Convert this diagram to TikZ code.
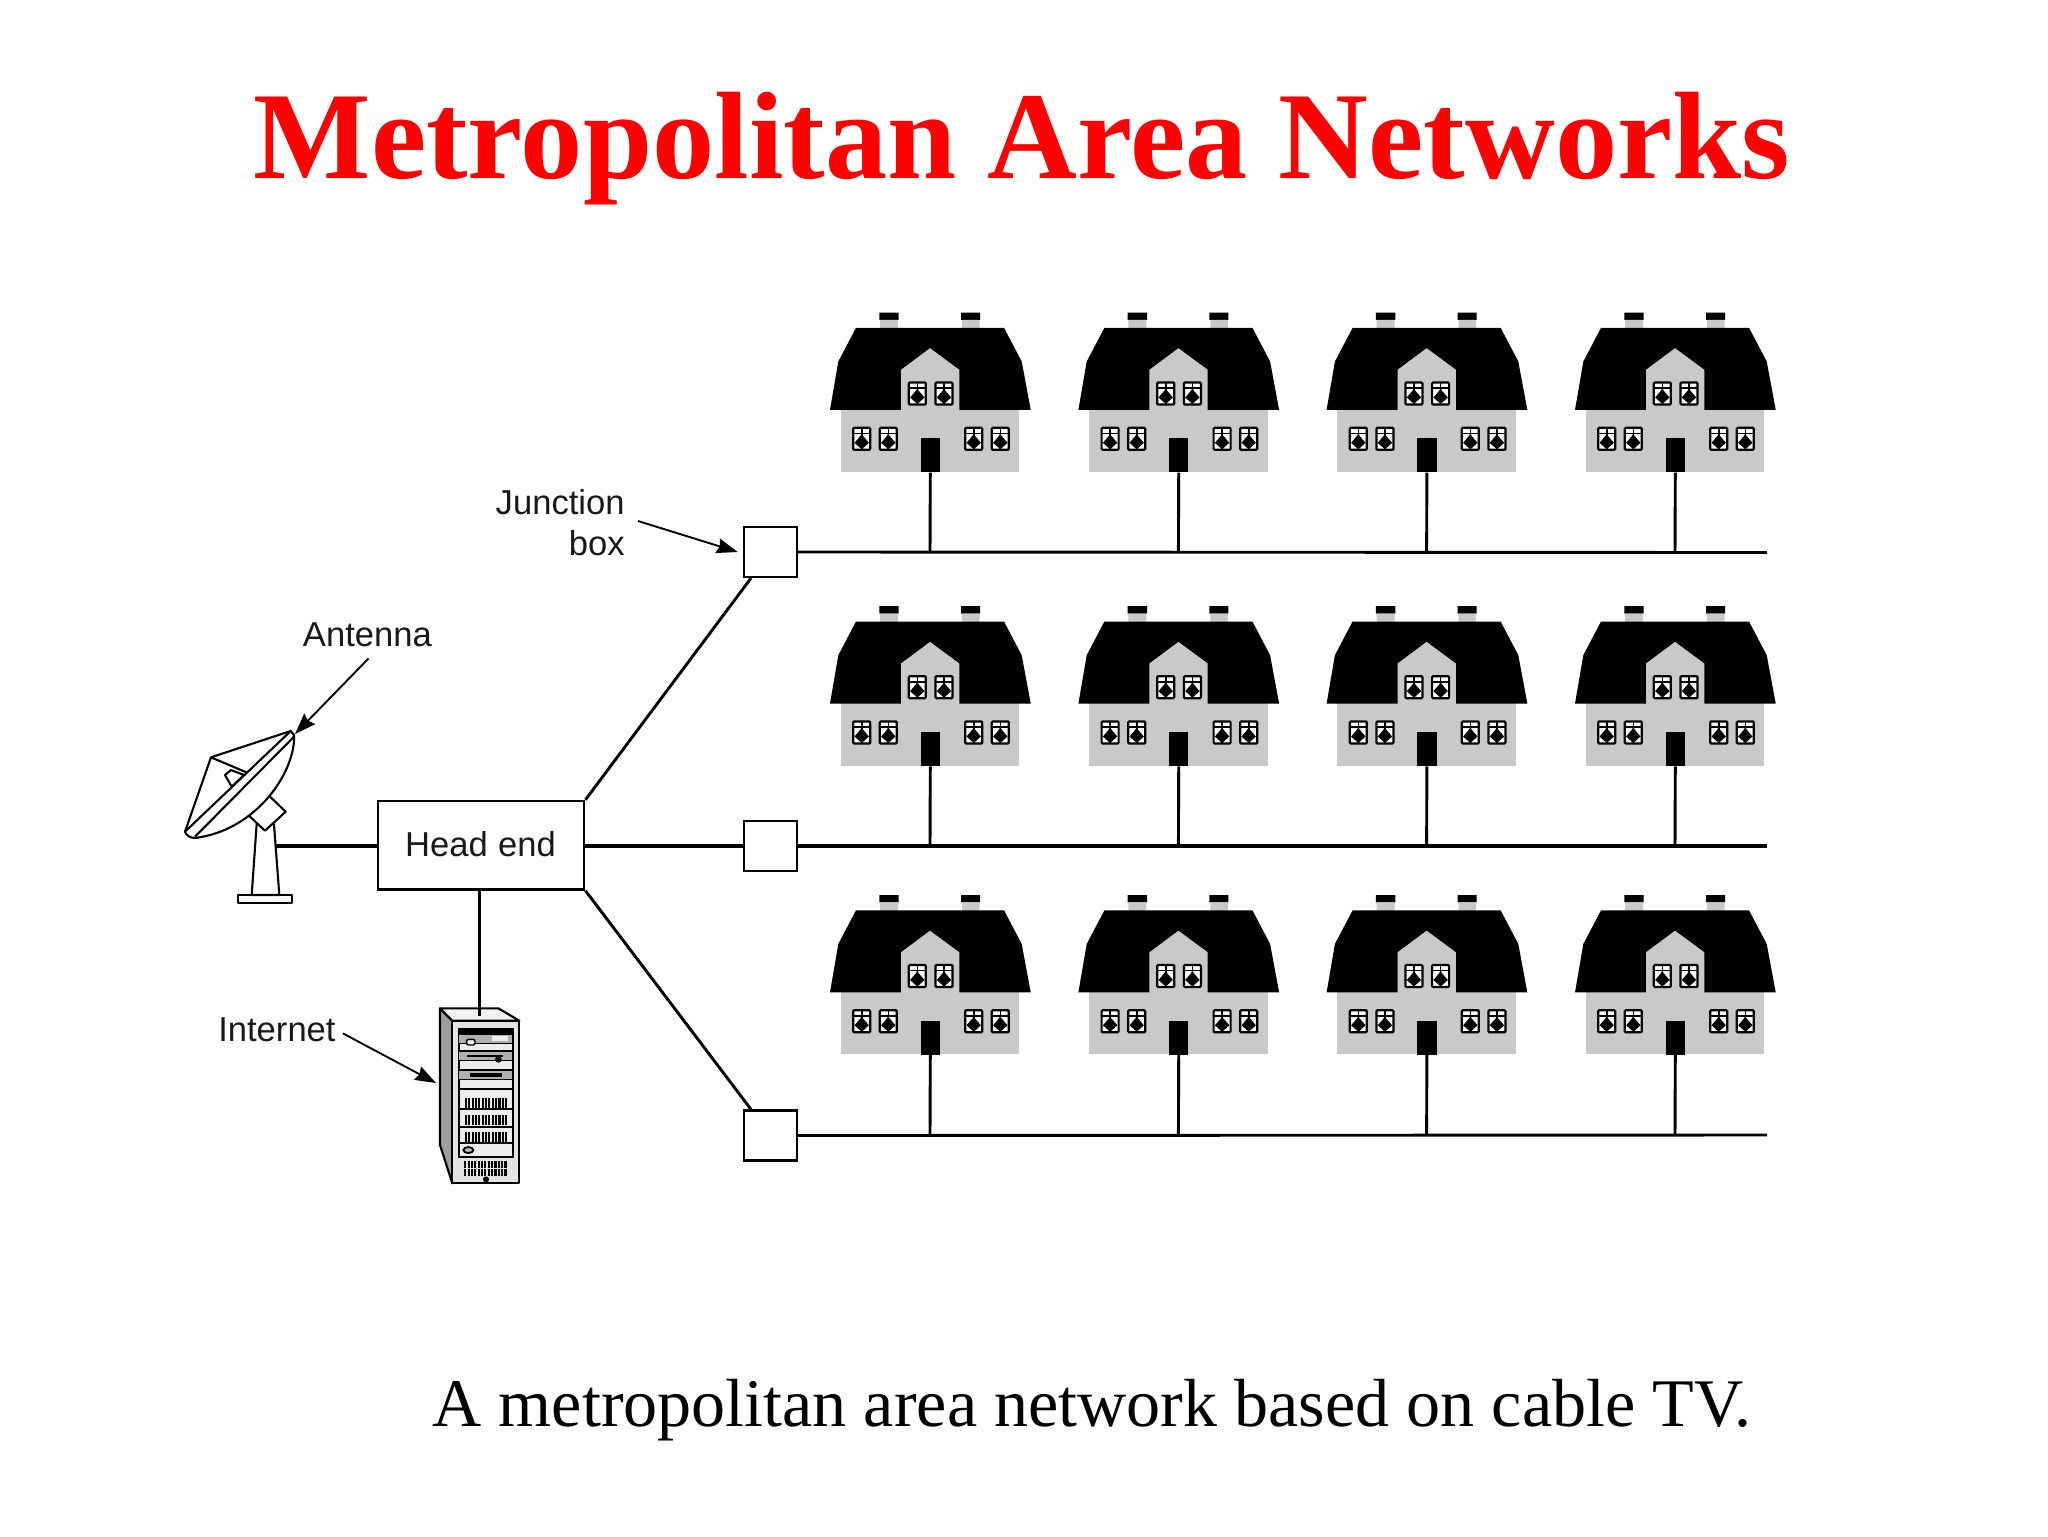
\documentclass[tikz,border=0pt]{standalone}
\usepackage{fontspec}
\setmainfont{Liberation Serif}
\newfontfamily\labelfont{Liberation Sans}
\usetikzlibrary{arrows.meta}
\definecolor{wallgray}{gray}{0.79}
\tikzset{
  line/.style={line width=1.45pt,black},
  thickline/.style={line width=1.9pt,black},
  thin outline/.style={line width=1.05pt,black,line join=round},
  callout/.style={line width=0.95pt,black,-{Stealth[length=10.5pt,width=7.5pt,inset=1.2pt]}},
  boxnode/.style={draw=black,line width=1.15pt,fill=white,inner sep=0pt},
  jbox/.style={boxnode,minimum width=26.5pt,minimum height=25pt},
  label/.style={font=\labelfont\fontsize{17.3}{20}\selectfont,inner sep=0pt,text=black!90},
  pics/windowpane/.style={code={
    \fill[white] (-8.5,-11) rectangle (8.5,11);
    \fill[black] (0,-6) -- (1.2,-3) -- (7.2,4) -- (0,10.5) -- (-7.2,4) -- (-1.2,-3) -- cycle;
    \draw[black,line width=0.8pt] (-8.5,-5.5) -- (8.5,-5.5) (0,-11) -- (0,11);
    \draw[black,line width=1.1pt,rounded corners=0.5pt] (-8.5,-11) rectangle (8.5,11);
  }},
  pics/house/.style={code={
    \fill[black] (-50.7,-240) rectangle (-31.3,-232.7) (31,-240) rectangle (50,-232.7);
    \fill[wallgray] (-50,-232.7) rectangle (-32,-224) (32,-232.7) rectangle (49.5,-224);
    \fill[wallgray] (-89.3,-143) rectangle (89.3,-80.7);
    \fill[black] (-74,-224.7) -- (74,-224.7) -- (91.7,-191) -- (100.7,-142.7) -- (-100,-142.7) -- (-91.7,-191) -- cycle;
    \fill[wallgray] (-29,-142) -- (-29,-182.7) -- (0,-204.3) -- (29.3,-182.7) -- (29.3,-142) -- cycle;
    \foreach \wx in {-12.7,14} \pic at (\wx,-159) {windowpane};
    \foreach \wx in {-68.3,-41.7,43.7,70.3} \pic at (\wx,-113.7) {windowpane};
    \node[fill=black,inner sep=0pt,minimum width=9.7pt,minimum height=17pt] (-door) at (0.3,-97.2) {};
  }}
}
\begin{document}
\begin{tikzpicture}[x=0.5pt,y=-0.5pt]
\useasboundingbox (0,0) rectangle (2048,1536);

% Title and caption
\node[anchor=base,inner sep=0pt,text=red,font=\bfseries\fontsize{62.2}{70}\selectfont] (title) at (1022,178) {Metropolitan Area Networks};
\node[anchor=base,inner sep=0pt,font=\fontsize{34.05}{40}\selectfont] (caption) at (1092,1426.5) {A metropolitan area network based on cable TV.};

% Coordinates
\coordinate (ant) at (275.5,846);
\coordinate (antTip) at (295,734);
\coordinate (srvTop) at (479.3,1016);
\coordinate (srvSide) at (436,1083);
\coordinate (e1) at (1767,552.5);
\coordinate (e2) at (1767,846);
\coordinate (e3) at (1767,1135);

% Boxes
\node[boxnode,minimum width=103.3pt,minimum height=44.3pt] (he) at (481,845.2) {};
\node[label] (het) at (480.5,844) {\spaceskip=0.3em Head end};
\node[jbox] (j1) at (770.5,552) {};
\node[jbox] (j2) at (770.5,846) {};
\node[jbox] (j3) at (770.5,1135.5) {};

% Server
\begin{scope}[shift={(420,990)},x=0.1667pt,y=-0.1667pt]
  \filldraw[thin outline,fill=gray!75] (60,55) -- (97,92) -- (97,580) -- (60,465) -- cycle;
  \filldraw[thin outline,fill=gray!10] (60,55) -- (235,55) -- (298,92) -- (97,92) -- cycle;
  \filldraw[thin outline,fill=gray!22] (97,92) rectangle (298,580);
  \filldraw[black,line width=1.1pt,fill=gray!14] (116,118) rectangle (278,500);
  \fill[black] (116,118) rectangle (278,130);
  \filldraw[black,line width=0.7pt,fill=gray!62] (116,132) rectangle (278,160);
  \fill[gray!15] (215,137) rectangle (265,152);
  \filldraw[black,line width=0.7pt,fill=gray!15,rounded corners=1pt] (140,148) rectangle (165,165);
  \filldraw[black,line width=0.7pt,fill=gray!62] (116,183) rectangle (278,212);
  \fill[black] (140,195) rectangle (250,202);
  \fill[black] (235,208) circle (10);
  \filldraw[black,line width=0.7pt,fill=gray!62] (116,240) rectangle (278,268);
  \fill[black] (150,250) rectangle (245,260);
  \draw[black,line width=1pt] (116,297) -- (278,297) (116,357) -- (278,357) (116,410) -- (278,410) (116,460) -- (278,460);
  \foreach \by in {340,390,440}
    \draw[black,line width=5pt,dash pattern=on 1.05pt off 0.62pt] (135,\by) -- (262,\by);
  \filldraw[black,line width=0.9pt,fill=gray!55] (145,480) ellipse (15 and 9);
  \foreach \by in {523,548}
    \draw[black,line width=3.6pt,dash pattern=on 1.05pt off 0.62pt] (133,\by) -- (262,\by);
  \fill[black] (198,568) circle (9);
\end{scope}

% Antenna
\draw[thin outline,fill=white] (238.3,895) rectangle (292.3,903.3);
\draw[thin outline,fill=white] (257.3,815) -- (251.7,895) -- (279.3,895) -- (273.3,815);
\draw[thin outline,fill=white] (268.3,795) -- (285.7,811.7) -- (265,830.7) -- (248.3,815) -- cycle;
\draw[thin outline] (290.7,731) -- (211,757.3) -- (185,831.7);
\draw[thin outline] (211,757.3) -- (247.3,772.7);
\draw[thin outline,fill=white] (225,775) -- (231,770) -- (244,775) -- (231.7,786.7) -- cycle;
\draw[thin outline,fill=white] (290.7,731) -- (294,735) .. controls (296,770) and (258,830) .. (195,838) .. controls (190,838) and (186,835) .. (185,831.7) -- cycle;
\draw[thin outline] (294,736.7) -- (195,836.7);

% Connectors
\draw[thickline] (ant) -- (he.west |- ant);
\draw[thickline] (he.east |- j2) -- (j2.west);
\draw[line] (he.north east) -- (j1.south west -| 751,577);
\draw[line] (he.south east) -- (j3.north west -| 751,1111);
\draw[line] (he.south -| srvTop) -- (srvTop);
\draw[line] (j1.east) -- (e1);
\draw[thickline] (j2.east) -- (e2);
\draw[line] (j3.east) -- (e3);

% Houses
\foreach \hx [count=\hi] in {930,1178.4,1426.6,1675} {
  \foreach \by/\ey [count=\ri] in {552.5/552.5,846.2/846.2,1135/1135} {
    \pic (h\ri\hi) at (\hx,\by) {house};
    \coordinate (t\ri\hi) at (\hx,\ey);
    \draw[line] (h\ri\hi-door.south) -- (t\ri\hi);
  }
}

% Labels with arrows
\node[label,anchor=base east] (jl1) at (625,514) {Junction};
\node[label,anchor=base east] (jl2) at (625,555) {box};
\coordinate (jtail) at (638,521);
\draw[callout] (jtail) -- (737.7,552);
\node[label] (antl) at (367.4,635) {Antenna};
\coordinate (atail) at (368.5,658.5);
\draw[callout] (atail) -- (antTip);
\node[label,anchor=east] (inl) at (336,1030) {Internet};
\coordinate (itail) at (343,1033.4);
\draw[callout] (itail) -- (srvSide);
\end{tikzpicture}
\end{document}
